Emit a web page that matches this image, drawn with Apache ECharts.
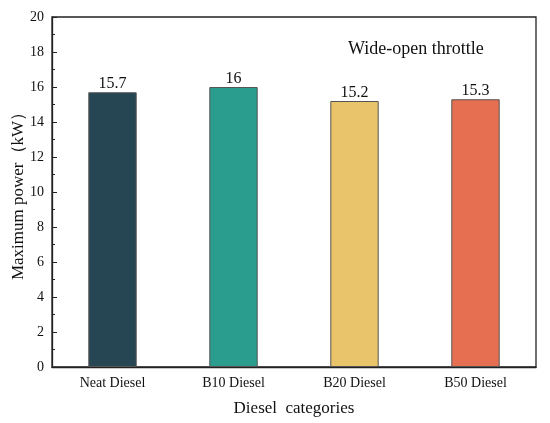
<!DOCTYPE html>
<html><head><meta charset="utf-8">
<script src="https://cdn.jsdelivr.net/npm/echarts@6/dist/echarts.min.js"></script>
<style>html,body{margin:0;padding:0;background:#fff}#c{width:550px;height:423px}</style>
</head><body><div id="c"></div>
<script>
const categories = ['Neat Diesel', 'B10 Diesel', 'B20 Diesel', 'B50 Diesel'];
const maxPower = [15.7, 16, 15.2, 15.3];
const barColors = ['#264653', '#2a9d8f', '#e9c46a', '#e76f51'];
const yTicks = [0, 2, 4, 6, 8, 10, 12, 14, 16, 18, 20];

const font = 'Liberation Serif, Times New Roman, serif';
const chart = echarts.init(document.getElementById('c'));
chart.setOption({
  animation: false,
  grid: { left: 52, right: 14, top: 17, bottom: 56, containLabel: false, outerBoundsMode: 'none', show: true, borderColor: '#222', borderWidth: 1.3, backgroundColor: 'transparent' },
  title: { text: 'Wide-open throttle', left: 343, top: 35, textStyle: { fontFamily: font, fontSize: 18, fontWeight: 'normal', color: '#111' } },
  xAxis: {
    type: 'category', data: categories,
    name: 'Diesel  categories', nameLocation: 'middle', nameGap: 33, nameMoveOverlap: false,
    nameTextStyle: { fontFamily: font, fontSize: 17, color: '#111' },
    axisLine: { lineStyle: { color: '#222', width: 1.3 } },
    axisTick: { inside: true, alignWithLabel: true, length: 5, lineStyle: { color: '#222' } },
    axisLabel: { fontFamily: font, fontSize: 14, color: '#111', margin: 9 }
  },
  yAxis: {
    type: 'value', min: yTicks[0], max: yTicks[yTicks.length - 1], interval: 2,
    name: 'Maximum power（kW）', nameLocation: 'middle', nameGap: 25, nameMoveOverlap: false,
    nameTextStyle: { fontFamily: font, fontSize: 17, color: '#111' },
    axisLine: { show: true, lineStyle: { color: '#222', width: 1.3 } },
    axisTick: { show: true, inside: true, length: 5, lineStyle: { color: '#222' } },
    minorTick: { show: true, splitNumber: 2, length: 3, lineStyle: { color: '#222' } },
    splitLine: { show: false },
    axisLabel: { fontFamily: font, fontSize: 14, color: '#111', margin: 8 }
  },
  series: [{
    type: 'bar', barWidth: '40%',
    data: maxPower.map((v, i) => ({ value: v, itemStyle: { color: barColors[i] } })),
    itemStyle: { borderColor: '#555', borderWidth: 1 },
    label: { show: true, position: 'top', distance: 0, fontFamily: font, fontSize: 16, color: '#111' }
  }]
});
</script></body></html>
